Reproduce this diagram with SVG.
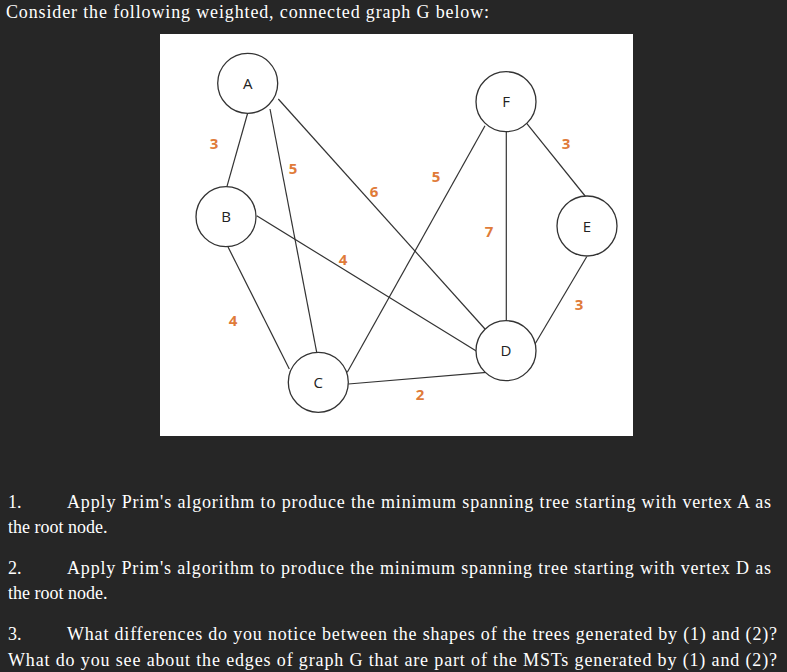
<svg xmlns="http://www.w3.org/2000/svg" width="787" height="672" viewBox="0 0 787 672">
<style>
.t{font-family:"Liberation Serif",serif;font-size:18px;fill:#ffffff}
.n{fill:#fff;stroke:#333;stroke-width:1.3}
.nl{font-family:"Open Sans","Liberation Sans",sans-serif;font-size:15px;fill:#222;text-anchor:middle}
.w{font-family:"Open Sans","Liberation Sans",sans-serif;font-size:15px;font-weight:bold;fill:#E07B39;text-anchor:middle}
.e line{stroke:#333;stroke-width:1.2}
</style>
<rect width="787" height="672" fill="#262626"/>
<text class="t" x="6" y="18" textLength="483">Consider the following weighted, connected graph G below:</text>
<rect x="160" y="34" width="473" height="402" fill="#ffffff"/>
<g id="edges" class="e">
<line x1="247.7" y1="113" x2="226.7" y2="187.3"/>
<line x1="270" y1="109" x2="316.7" y2="352.3"/>
<line x1="278.3" y1="99" x2="485" y2="329"/>
<line x1="256.7" y1="215.7" x2="478.3" y2="352.3"/>
<line x1="227.7" y1="246.3" x2="289.3" y2="369"/>
<line x1="347.3" y1="372.3" x2="485" y2="125.7"/>
<line x1="348.3" y1="384" x2="486.7" y2="372.3"/>
<line x1="506.3" y1="131.3" x2="506.3" y2="320.7"/>
<line x1="526.7" y1="123.3" x2="586.7" y2="198"/>
<line x1="586.7" y1="256.7" x2="535" y2="344"/>
</g>
<g id="weights">
<text class="w" x="214" y="149">3</text>
<text class="w" x="293" y="174">5</text>
<text class="w" x="374" y="197">6</text>
<text class="w" x="436" y="182">5</text>
<text class="w" x="489" y="237">7</text>
<text class="w" x="566" y="149">3</text>
<text class="w" x="343" y="265">4</text>
<text class="w" x="233" y="326">4</text>
<text class="w" x="579" y="310">3</text>
<text class="w" x="420" y="400">2</text>
</g>
<g id="A"><circle class="n" cx="247.7" cy="83.3" r="30"/><text class="nl" x="247.7" y="89">A</text></g>
<g id="B"><circle class="n" cx="226" cy="216.7" r="30"/><text class="nl" x="226" y="222">B</text></g>
<g id="C"><circle class="n" cx="318.3" cy="382.3" r="30"/><text class="nl" x="318.3" y="388">C</text></g>
<g id="D"><circle class="n" cx="506" cy="350.7" r="30"/><text class="nl" x="506" y="356">D</text></g>
<g id="E"><circle class="n" cx="587" cy="226" r="30"/><text class="nl" x="587" y="232">E</text></g>
<g id="F"><circle class="n" cx="506" cy="101.7" r="30"/><text class="nl" x="506" y="107">F</text></g>
<text class="t" x="8" y="508">1.</text>
<text class="t" x="67" y="508" textLength="704">Apply Prim's algorithm to produce the minimum spanning tree starting with vertex A as</text>
<text class="t" x="8" y="533">the root node.</text>
<text class="t" x="8" y="574">2.</text>
<text class="t" x="67" y="574" textLength="704">Apply Prim's algorithm to produce the minimum spanning tree starting with vertex D as</text>
<text class="t" x="8" y="599">the root node.</text>
<text class="t" x="8" y="640">3.</text>
<text class="t" x="67" y="640" textLength="710">What differences do you notice between the shapes of the trees generated by (1) and (2)?</text>
<text class="t" x="8" y="666" textLength="769">What do you see about the edges of graph G that are part of the MSTs generated by (1) and (2)?</text>
</svg>
